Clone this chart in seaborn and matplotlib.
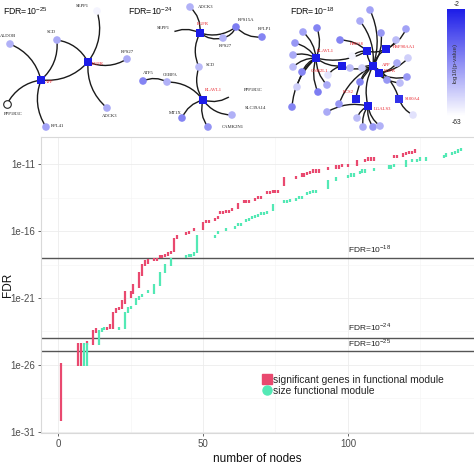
import matplotlib
matplotlib.use("Agg")
import matplotlib.pyplot as plt
import numpy as np
import pandas as pd
import seaborn as sns
from matplotlib.colors import LinearSegmentedColormap, Normalize
from matplotlib.patches import FancyArrowPatch
from matplotlib.lines import Line2D
import matplotlib.cm as cm

# ---- main chart data: number of nodes vs log10(FDR) (low / high end of each dash) ----
sig_x = [1, 7, 8, 10, 12, 13, 17, 18, 19, 20, 21, 22, 23, 25, 26, 28, 29, 30, 31, 33, 34, 35, 36,
         37, 38, 39, 40, 41, 44, 45, 47, 50, 51, 52, 54, 55, 56, 57, 58, 59, 60, 62, 64, 65, 66,
         68, 69, 70, 72, 73, 74, 75, 76, 78, 82, 84, 85, 86, 87, 88, 89, 90, 93, 96, 97, 98, 100,
         103, 106, 107, 108, 109, 116, 117, 119, 120, 121, 122, 123]
sig_lo = [-30.1, -26.0, -26.0, -24.4, -24.4, -23.5, -23.3, -23.2, -23.2, -22.0, -21.8, -21.7, -21.3,
          -20.9, -20.6, -20.1, -19.2, -18.5, -18.3, -18.1, -18.1, -17.9, -17.9, -17.8, -17.7, -17.6,
          -17.4, -16.5, -16.2, -16.1, -15.9, -15.8, -15.3, -15.3, -15.1, -15.0, -14.6, -14.6, -14.5,
          -14.5, -14.4, -14.2, -13.8, -13.8, -13.8, -13.6, -13.5, -13.5, -13.1, -13.1, -13.0, -13.0,
          -13.0, -12.5, -12.0, -11.8, -11.8, -11.7, -11.6, -11.5, -11.5, -11.5, -11.3, -11.2, -11.2,
          -11.1, -11.1, -11.0, -10.7, -10.6, -10.6, -10.6, -10.4, -10.4, -10.3, -10.2, -10.1, -10.1, -10.0]
sig_hi = [-26.0, -24.5, -24.5, -24.3, -23.5, -23.4, -23.3, -23.1, -22.2, -21.9, -21.8, -21.3, -20.6,
          -20.6, -20.1, -19.2, -18.6, -18.3, -18.2, -18.1, -18.1, -17.9, -17.9, -17.8, -17.7, -17.6,
          -16.6, -16.4, -16.2, -16.1, -15.9, -15.4, -15.3, -15.3, -15.1, -15.0, -14.6, -14.6, -14.5,
          -14.5, -14.4, -14.0, -13.8, -13.8, -13.8, -13.6, -13.5, -13.5, -13.1, -13.1, -13.0, -13.0,
          -13.0, -12.1, -12.0, -11.8, -11.8, -11.7, -11.6, -11.5, -11.5, -11.5, -11.3, -11.2, -11.2,
          -11.1, -11.1, -10.8, -10.7, -10.6, -10.6, -10.6, -10.4, -10.4, -10.3, -10.2, -10.1, -10.1, -10.0]

size_x = [9, 10, 14, 15, 16, 21, 23, 24, 25, 27, 28, 29, 31, 33, 35, 37, 39, 44, 45, 46, 47, 48, 54,
          55, 58, 61, 62, 63, 65, 66, 67, 68, 69, 70, 71, 72, 74, 78, 79, 80, 82, 83, 84, 86, 87, 88,
          89, 93, 96, 100, 101, 102, 104, 105, 106, 109, 114, 115, 116, 120, 122, 124, 125, 127, 133,
          134, 136, 137, 138, 139]
size_lo = [-26.0, -26.0, -24.4, -23.4, -23.3, -23.3, -23.2, -22.0, -21.7, -21.4, -21.0, -20.8, -20.5,
           -20.6, -20.0, -19.0, -18.5, -17.9, -17.8, -17.8, -17.7, -17.5, -16.4, -16.1, -15.9, -15.7,
           -15.5, -15.5, -15.2, -15.1, -15.0, -14.9, -14.8, -14.7, -14.7, -14.6, -14.4, -13.8, -13.8,
           -13.7, -13.6, -13.5, -13.5, -13.2, -13.1, -13.0, -13.0, -12.7, -12.1, -11.9, -11.8, -11.8,
           -11.6, -11.5, -11.5, -11.4, -11.2, -11.2, -11.1, -11.1, -10.7, -10.7, -10.6, -10.6, -10.4,
           -10.3, -10.2, -10.1, -10.0, -9.9]
size_hi = [-24.5, -24.5, -23.5, -23.4, -23.3, -23.3, -22.2, -21.8, -21.7, -21.1, -21.0, -20.8, -20.5,
           -20.1, -19.2, -18.6, -18.1, -17.9, -17.8, -17.8, -17.7, -16.4, -16.4, -16.1, -15.9, -15.7,
           -15.5, -15.5, -15.2, -15.1, -15.0, -14.9, -14.8, -14.7, -14.7, -14.6, -14.1, -13.8, -13.8,
           -13.7, -13.6, -13.5, -13.5, -13.2, -13.1, -13.0, -13.0, -12.3, -12.1, -11.9, -11.8, -11.8,
           -11.6, -11.5, -11.5, -11.4, -11.2, -11.2, -11.1, -10.8, -10.7, -10.7, -10.6, -10.6, -10.4,
           -10.3, -10.2, -10.1, -10.0, -9.9]

thresholds = [-18, -24, -25]
threshold_labels = ["FDR=10$^{\\mathregular{-18}}$", "FDR=10$^{\\mathregular{-24}}$",
                    "FDR=10$^{\\mathregular{-25}}$"]
y_ticks = [-31, -26, -21, -16, -11]
x_ticks = [0, 50, 100]
series_names = ["significant genes in functional module", "size functional module"]

# ---- network panels: nodes, log10(p-value) of each node, edges ----
net1_nodes = ["APP", "EGFR", "SEPP1", "SCD", "ALDOB", "RPS27", "ADCK3", "PPP1R3C", "RPL41"]
net1_logp = [-2, -2, -60, -40, -42, -40, -40, -63, -38]
net1_edges = [("APP", "ALDOB"), ("APP", "SCD"), ("APP", "PPP1R3C"), ("APP", "RPL41"), ("APP", "EGFR"),
              ("EGFR", "SCD"), ("EGFR", "SEPP1"), ("EGFR", "RPS27"), ("EGFR", "ADCK3")]

net2_nodes = ["EGFR", "ADCK3", "SEPP1", "RPS15A", "RPLP1", "RPS27", "SCD", "ELAVL1", "CEBPA", "ATF5",
              "PPP1R3C", "SLC39A14", "MT1X", "CAMK2N1"]
net2_logp = [-2, -42, -63, -28, -30, -42, -44, -2, -42, -30, -63, -42, -30, -34]
net2_edges = [("EGFR", "ADCK3"), ("EGFR", "SEPP1"), ("EGFR", "RPS15A"), ("EGFR", "RPS27"),
              ("RPS15A", "RPLP1"), ("RPS27", "RPS15A"), ("EGFR", "SCD"), ("SCD", "ELAVL1"),
              ("ELAVL1", "CEBPA"), ("CEBPA", "ATF5"), ("ELAVL1", "PPP1R3C"), ("ELAVL1", "SLC39A14"),
              ("ELAVL1", "MT1X"), ("ELAVL1", "CAMK2N1")]

net3_hubs = ["ELAVL1", "GNB2L1", "HSPA8", "HSP90AA1", "APP", "EGFR", "ECS2", "LGALS3", "S100A4"]
net3_hub_logp = [-2, -2, -2, -2, -2, -2, -3, -2, -8]
net3_leaves = ["c%d" % i for i in range(1, 34)]
net3_leaf_logp = [-38, -30, -35, -40, -45, -30, -50, -30, -28, -40, -30, -45, -40, -38, -35, -45, -38,
                  -40, -35, -50, -30, -35, -40, -50, -45, -40, -35, -42, -55, -45, -35, -55, -60]
net3_edges = ([("ELAVL1", c) for c in ["c1", "c2", "c3", "c4", "c5", "c6", "c7", "c8", "c9", "c10"]] +
              [("ELAVL1", "GNB2L1"), ("ELAVL1", "HSPA8"), ("GNB2L1", "c12"), ("GNB2L1", "APP"),
               ("GNB2L1", "c32"), ("HSPA8", "c11"), ("HSPA8", "APP"), ("HSPA8", "c33"),
               ("HSPA8", "HSP90AA1"), ("HSP90AA1", "c16"), ("HSP90AA1", "c17"), ("HSP90AA1", "APP"),
               ("APP", "c13"), ("APP", "c14"), ("APP", "c15"), ("APP", "c21"), ("APP", "c24"),
               ("APP", "EGFR"), ("APP", "ECS2"), ("APP", "LGALS3"), ("APP", "c31"), ("APP", "c22"),
               ("EGFR", "c19"), ("EGFR", "c20"), ("EGFR", "c30"), ("EGFR", "c18"),
               ("LGALS3", "c23"), ("LGALS3", "c25"), ("LGALS3", "c26"), ("LGALS3", "c27"),
               ("LGALS3", "c28"), ("S100A4", "c29"), ("S100A4", "APP")])
net_titles = ["FDR=10$^{\\mathregular{-25}}$", "FDR=10$^{\\mathregular{-24}}$",
              "FDR=10$^{\\mathregular{-18}}$"]

# ---- layout of the networks (pixel-like coords of the top strip) ----
net1_pos = {"APP": (41, 80), "EGFR": (88, 62), "SEPP1": (97, 11), "SCD": (57, 40), "ALDOB": (10, 44),
            "RPS27": (127, 59), "ADCK3": (107, 108), "PPP1R3C": (7, 104), "RPL41": (46, 127)}
net1_lab = {"APP": (45, 82, "left"), "EGFR": (92, 64, "left"), "SEPP1": (82, 6, "center"),
            "SCD": (51, 32, "center"), "ALDOB": (8, 36, "center"), "RPS27": (127, 52, "center"),
            "ADCK3": (110, 116, "center"), "PPP1R3C": (13, 114, "center"), "RPL41": (51, 126, "left")}
net2_pos = {"EGFR": (200, 33), "ADCK3": (190, 7), "SEPP1": (171, 33), "RPS15A": (236, 27),
            "RPLP1": (262, 37), "RPS27": (223, 38), "SCD": (199, 67), "ELAVL1": (203, 100),
            "CEBPA": (167, 82), "ATF5": (143, 81), "PPP1R3C": (232, 95), "SLC39A14": (232, 115),
            "MT1X": (182, 118), "CAMK2N1": (208, 127)}
net2_lab = {"EGFR": (203, 24, "center"), "ADCK3": (198, 7, "left"), "SEPP1": (163, 28, "center"),
            "RPS15A": (246, 20, "center"), "RPLP1": (265, 29, "center"), "RPS27": (225, 46, "center"),
            "SCD": (206, 65, "left"), "ELAVL1": (213, 90, "center"), "CEBPA": (170, 75, "center"),
            "ATF5": (148, 73, "center"), "PPP1R3C": (253, 90, "center"),
            "SLC39A14": (245, 108, "left"), "MT1X": (175, 113, "center"),
            "CAMK2N1": (222, 127, "left")}
net3_pos = {"ELAVL1": (316, 58), "GNB2L1": (342, 66), "HSPA8": (367, 51), "HSP90AA1": (386, 49),
            "APP": (373, 66), "EGFR": (379, 73), "ECS2": (356, 99), "LGALS3": (368, 106),
            "S100A4": (399, 99),
            "c1": (303, 32), "c2": (317, 28), "c3": (295, 43), "c4": (293, 55), "c5": (293, 67),
            "c6": (302, 72), "c7": (297, 87), "c8": (292, 107), "c9": (318, 92), "c10": (327, 85),
            "c11": (340, 40), "c12": (350, 68), "c13": (360, 21), "c14": (370, 10), "c15": (381, 33),
            "c16": (396, 40), "c17": (406, 29), "c18": (397, 63), "c19": (407, 77), "c20": (408, 58),
            "c21": (360, 82), "c22": (339, 104), "c23": (327, 112), "c24": (362, 68),
            "c25": (357, 118), "c26": (363, 127), "c27": (373, 127), "c28": (380, 126),
            "c29": (413, 115), "c30": (400, 83), "c31": (387, 80), "c32": (328, 75), "c33": (352, 56)}
net3_lab = {"ELAVL1": (325, 51, "center"), "GNB2L1": (320, 71, "center"), "HSPA8": (357, 44, "center"),
            "HSP90AA1": (404, 47, "center"), "APP": (386, 65, "center"), "EGFR": (390, 71, "center"),
            "ECS2": (348, 92, "center"), "LGALS3": (383, 109, "center"), "S100A4": (412, 99, "center")}

PINK = "#e9496f"
GREEN = "#53e9b5"
HUB_RED = "#e8222a"

sns.set_theme(style="whitegrid")
plt.rcParams['font.family'] = ['Liberation Sans', 'DejaVu Sans']

fig = plt.figure(figsize=(4.74, 4.74), dpi=100)

# ---------------- top networks ----------------
cmap = LinearSegmentedColormap.from_list("pv", ["#ffffff", "#1c1ce8"])
norm = Normalize(-63, -2)

net_ax = fig.add_axes([0, 1 - 135 / 474, 1, 135 / 474])
net_ax.set_xlim(0, 474)
net_ax.set_ylim(135, 0)
net_ax.axis("off")


def draw_net(ax, nodes, logp, edges, pos, labels, hubs, rad=0.25):
    for a, b in edges:
        ax.add_patch(FancyArrowPatch(pos[a], pos[b], arrowstyle="-", connectionstyle="arc3,rad=%s" % rad,
                                     lw=1.0, color="#1a1a1a", shrinkA=0, shrinkB=0, zorder=1))
    for n, v in zip(nodes, logp):
        x, y = pos[n]
        if n in hubs:
            ax.scatter(x, y, s=40, marker="s", color=cmap(norm(v)), zorder=3, linewidths=0)
        else:
            ec = "#222222" if (v <= -63 and n == "PPP1R3C" and x < 20) else "none"
            ax.scatter(x, y, s=30, marker="o", color=cmap(norm(v)), edgecolors=ec,
                       linewidths=0.8, zorder=3)
        if n in labels:
            lx, ly, ha = labels[n]
            ax.text(lx, ly, n, fontsize=3.4, family="Liberation Serif", ha=ha, va="center",
                    color=HUB_RED if n in hubs else "#222222", zorder=4)


draw_net(net_ax, net1_nodes, net1_logp, net1_edges, net1_pos, net1_lab, ["APP", "EGFR"])
draw_net(net_ax, net2_nodes, net2_logp, net2_edges, net2_pos, net2_lab, ["EGFR", "ELAVL1"])
draw_net(net_ax, net3_hubs + net3_leaves, net3_hub_logp + net3_leaf_logp, net3_edges, net3_pos,
         net3_lab, net3_hubs, rad=0.2)

for tx, title in zip([3, 128, 290], net_titles):
    net_ax.text(tx, 11, title, fontsize=6.3, ha="left", va="center", color="#111111")

# colour bar
cax = fig.add_axes([447 / 474, 1 - 116 / 474, 18 / 474, 107 / 474])
cb = fig.colorbar(cm.ScalarMappable(norm=norm, cmap=cmap), cax=cax)
cb.outline.set_visible(False)
cb.set_ticks([])
cax.text(0.55, 1.045, "-2", transform=cax.transAxes, fontsize=4.8, ha="center", va="center",
         rotation=0)
cax.text(0.55, -0.06, "-63", transform=cax.transAxes, fontsize=4.8, ha="center", va="center",
         rotation=0)
cax.text(0.45, 0.5, "log10(p-value)", transform=cax.transAxes, fontsize=4.5, rotation=90,
         ha="center", va="center", color="#333333")

# ---------------- main scatter ----------------
ax = fig.add_axes([41 / 474, 41 / 474, 433 / 474, 296 / 474])
ax.set_facecolor("white")
ax.set_yscale("log")

df = pd.concat([
    pd.DataFrame({"nodes": sig_x, "lo": sig_lo, "hi": sig_hi, "kind": series_names[0]}),
    pd.DataFrame({"nodes": size_x, "lo": size_lo, "hi": size_hi, "kind": series_names[1]}),
])
palette = {series_names[0]: PINK, series_names[1]: GREEN}
for kind, sub in df.groupby("kind", sort=False):
    ax.vlines(sub["nodes"], 10.0 ** (sub["lo"] - 0.12), 10.0 ** (sub["hi"] + 0.12),
              color=palette[kind], lw=1.6, zorder=3)

for t in thresholds:
    ax.axhline(10.0 ** t, color="#555555", lw=1.0, zorder=2)
for lab, ypos in zip(threshold_labels, [-17.8, -23.65, -24.85]):
    ax.text(100, 10.0 ** ypos, lab, fontsize=6, ha="left", va="bottom", color="#222222")

ax.set_xlim(-5.9, 143.5)
ax.set_ylim(10.0 ** -31.1, 10.0 ** -8.95)
ax.set_xticks(x_ticks)
ax.set_xticks([25, 75, 125], minor=True)
ax.set_yticks([10.0 ** e for e in y_ticks])
ax.set_yticks([10.0 ** (e + 2.5) for e in y_ticks[:-1]], minor=True)
ax.set_yticklabels(["1e-%d" % -e for e in y_ticks])
ax.set_xticklabels([str(v) for v in x_ticks])
ax.tick_params(axis="both", which="major", labelsize=7, colors="#4d4d4d", length=2.5, width=0.6,
               pad=1.5, left=True, bottom=True)
ax.tick_params(axis="both", which="minor", length=0, labelleft=False, labelbottom=False)
ax.grid(True, which="major", color="#ececec", lw=0.6)
ax.grid(True, which="minor", color="#f4f4f4", lw=0.4)
for side in ["left", "bottom", "top"]:
    ax.spines[side].set_color("#d9d9d9")
    ax.spines[side].set_linewidth(0.8)
ax.spines["right"].set_visible(False)
ax.set_xlabel("number of nodes", fontsize=8.5, labelpad=3, color="#111111")
ax.set_ylabel("FDR", fontsize=8.5, color="#111111")
ax.yaxis.set_label_coords(-0.062, 0.5)

handles = [Line2D([], [], marker="s", ls="none", color=PINK, markersize=6.5),
           Line2D([], [], marker="o", ls="none", color=GREEN, markersize=6.5)]
ax.legend(handles, series_names, loc="upper left", bbox_to_anchor=(263 / 474, 1 - 375 / 474),
          bbox_transform=fig.transFigure, frameon=False, fontsize=7.4, handlelength=0.8,
          handletextpad=0.15, labelspacing=0.1, borderpad=0, borderaxespad=0)

fig.savefig("out.png", dpi=100)
